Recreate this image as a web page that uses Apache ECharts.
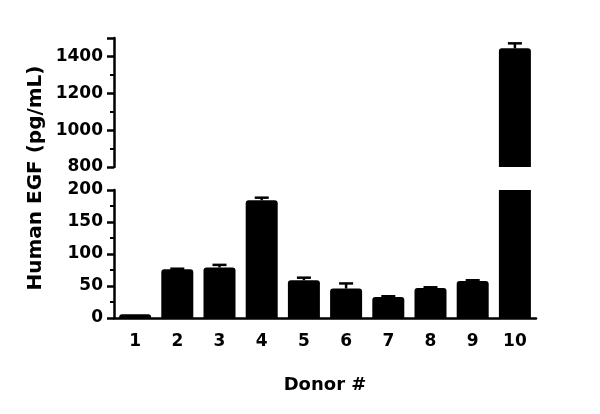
<!DOCTYPE html>
<html>
<head>
<meta charset="utf-8">
<script src="https://cdn.jsdelivr.net/npm/echarts@6/dist/echarts.min.js"></script>
<style>
  html, body { margin: 0; padding: 0; background: #fff; }
  #main { width: 600px; height: 414px; }
</style>
</head>
<body>
<div id="main"></div>
<script>
var donors = ['1', '2', '3', '4', '5', '6', '7', '8', '9', '10'];
var egf = [6, 76, 79, 184, 59, 46, 33, 47, 58, 1444];
var egfErr = [0, 1, 4, 4, 4, 8, 1, 1, 1, 27];

var lowMax = 200, highMin = 800, highMax = 1500;

var font = 'DejaVu Sans';
var myChart = echarts.init(document.getElementById('main'));

// error bars (upper side only) for one grid
function errData(inRange) {
    var out = [];
    egf.forEach(function (v, i) {
        if (egfErr[i] > 0 && inRange(v)) out.push([i, v, v + egfErr[i]]);
    });
    return out;
}

function renderErr(params, api) {
    var p0 = api.coord([api.value(0), api.value(1)]);
    var p1 = api.coord([api.value(0), api.value(2)]);
    var half = 7;
    return {
        type: 'group',
        children: [
            { type: 'line', shape: { x1: p0[0], y1: p0[1], x2: p1[0], y2: p1[1] },
              style: { stroke: '#000', lineWidth: 2.5 } },
            { type: 'line', shape: { x1: p1[0] - half, y1: p1[1], x2: p1[0] + half, y2: p1[1] },
              style: { stroke: '#000', lineWidth: 2.5 } }
        ]
    };
}

// bars that run past the top of the lower panel get a square (cut) top
function barData(cutAt) {
    return egf.map(function (v) {
        if (cutAt != null && v > cutAt) {
            return { value: v, itemStyle: { borderRadius: 0 } };
        }
        return v;
    });
}

var labelStyle = { color: '#000', fontFamily: font, fontWeight: 'bold', fontSize: 17 };

function yAxisCommon(min, max, interval) {
    return {
        type: 'value', min: min, max: max, interval: interval,
        splitLine: { show: false },
        axisLine: { show: true, lineStyle: { color: '#000', width: 2.5 } },
        axisTick: { show: true, length: 7, lineStyle: { color: '#000', width: 2.5 } },
        minorTick: { show: true, splitNumber: 2, length: 4, lineStyle: { color: '#000', width: 2 } },
        axisLabel: Object.assign({ margin: 11 }, labelStyle)
    };
}

var yHigh = yAxisCommon(highMin, highMax, 200);
yHigh.gridIndex = 0;
yHigh.axisLabel.formatter = function (v) { return v === highMax ? '' : String(v); };

var yLow = yAxisCommon(0, lowMax, 50);
yLow.gridIndex = 1;

myChart.setOption({
    animation: false,
    grid: [
        { left: 114, top: 38, width: 422, height: 129 },
        { left: 114, top: 190, width: 422, height: 128 }
    ],
    xAxis: [
        { type: 'category', gridIndex: 0, data: donors, show: false },
        {
            type: 'category', gridIndex: 1, data: donors,
            axisLine: { lineStyle: { color: '#000', width: 2.5 } },
            axisTick: { alignWithLabel: true, length: 7, lineStyle: { color: '#000', width: 2.5 } },
            axisLabel: Object.assign({ margin: 15 }, labelStyle),
            name: 'Donor #', nameLocation: 'middle', nameGap: 58,
            nameTextStyle: { color: '#000', fontFamily: font, fontWeight: 'bold', fontSize: 18 }
        }
    ],
    yAxis: [yHigh, yLow],
    graphic: [{
        type: 'text', rotation: Math.PI / 2, x: 36, y: 178,
        style: {
            text: 'Human EGF (pg/mL)', fill: '#000',
            font: 'bold 20px "DejaVu Sans"', align: 'center', verticalAlign: 'middle'
        }
    }],
    series: [
        {
            type: 'bar', xAxisIndex: 0, yAxisIndex: 0, data: barData(null), barWidth: 32,
            itemStyle: { color: '#000', borderRadius: [3, 3, 0, 0] }
        },
        {
            type: 'bar', xAxisIndex: 1, yAxisIndex: 1, data: barData(lowMax), barWidth: 32,
            itemStyle: { color: '#000', borderRadius: [3, 3, 0, 0] }
        },
        {
            type: 'custom', xAxisIndex: 0, yAxisIndex: 0, renderItem: renderErr,
            data: errData(function (v) { return v >= highMin; })
        },
        {
            type: 'custom', xAxisIndex: 1, yAxisIndex: 1, renderItem: renderErr,
            data: errData(function (v) { return v <= lowMax; })
        }
    ]
});
</script>
</body>
</html>
